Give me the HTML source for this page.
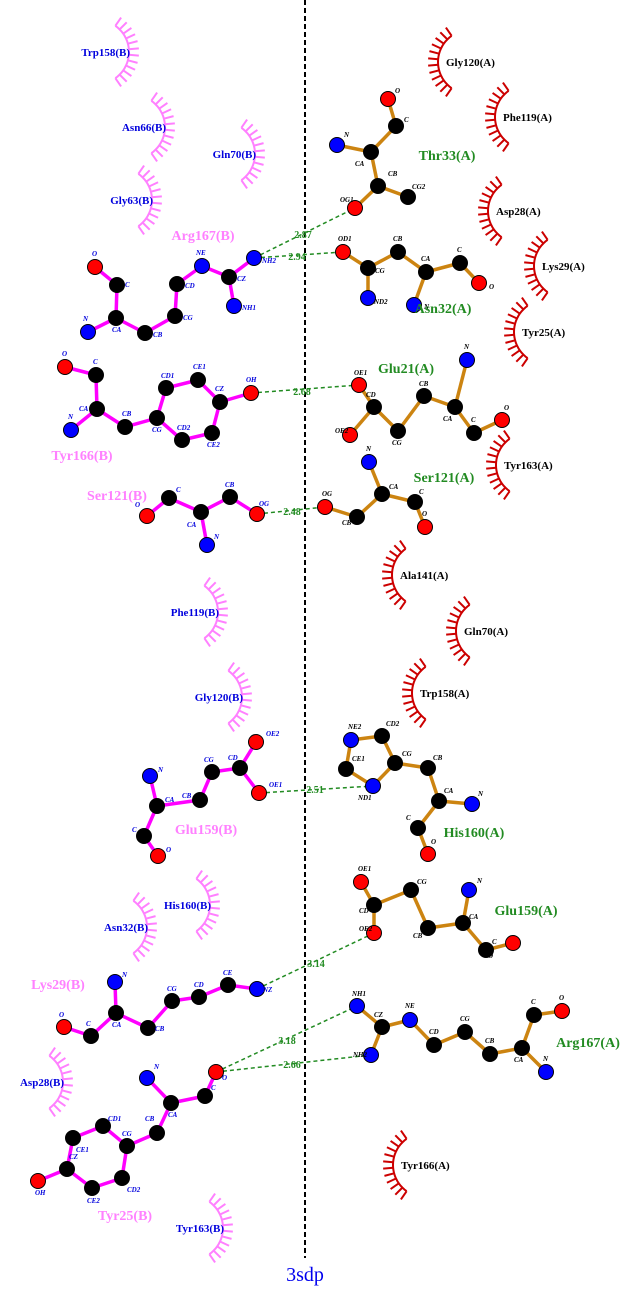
<!DOCTYPE html>
<html><head><meta charset="utf-8"><style>
html,body{margin:0;padding:0;background:#fff;}
svg{display:block;}
text{font-family:"Liberation Serif",serif;font-weight:bold;}
</style></head><body>
<svg id="s" width="642" height="1292" viewBox="0 0 642 1292" xmlns="http://www.w3.org/2000/svg">
<line x1="305" y1="0" x2="305" y2="1258" stroke="#000" stroke-width="2" stroke-dasharray="5,3"/>
<text x="305" y="1281" font-size="20" fill="#0000ee" text-anchor="middle" style="font-weight:normal">3sdp</text>
<g id="arcs"></g><g id="hb"></g><g id="bonds"></g><g id="atoms"></g><g id="labels"></g>
</svg>
<script>
var NS="http://www.w3.org/2000/svg";
function el(p,t,a,txt){var e=document.createElementNS(NS,t);for(var k in a)e.setAttribute(k,a[k]);if(txt!==undefined)e.textContent=txt;document.getElementById(p).appendChild(e);return e;}
var col={C:"#000",O:"#ff0000",N:"#0000ff"};
function res(side,atoms,bonds,name,lx,ly){
 var bc=side=="B"?"#ff00ff":"#cc8411", ac=side=="B"?"#0000dd":"#000";
 var m={};atoms.forEach(function(a){m[a[0]]=a;});
 bonds.forEach(function(b){var p=m[b[0]],q=m[b[1]];el("bonds","line",{x1:p[1],y1:p[2],x2:q[1],y2:q[2],stroke:bc,"stroke-width":3.5});});
 atoms.forEach(function(a){el("atoms","circle",{cx:a[1],cy:a[2],r:7.5,fill:col[a[3]],stroke:"#000","stroke-width":1});
  el("labels","text",{x:a[1]+(a[4]||10),y:a[2]+(a[5]||-8),"font-size":7,fill:ac,"font-style":"italic"},a[0]);});
 el("labels","text",{x:lx,y:ly,"font-size":14,fill:side=="B"?"#ff80ff":"#228b22","text-anchor":"middle"},name);
}
res("B",[["O",95,267,"O",-3,-11],["C",117,285,"C",8,2],["CA",116,318,"C",-4,14],["N",88,332,"N",-5,-11],["CB",145,333,"C",8,4],["CG",175,316,"C",8,4],["CD",177,284,"C",8,4],["NE",202,266,"N",-6,-11],["CZ",229,277,"C",8,4],["NH2",254,258,"N",8,5],["NH1",234,306,"N",8,4]],
 [["O","C"],["C","CA"],["CA","N"],["CA","CB"],["CB","CG"],["CG","CD"],["CD","NE"],["NE","CZ"],["CZ","NH2"],["CZ","NH1"]],"Arg167(B)",203,240);
res("B",[["O",65,367,"O",-3,-11],["C",96,375,"C",-3,-11],["CA",97,409,"C",-18,2],["N",71,430,"N",-3,-11],["CB",125,427,"C",-3,-11],["CG",157,418,"C",-5,14],["CD1",166,388,"C",-5,-10],["CE1",198,380,"C",-5,-11],["CZ",220,402,"C",-5,-11],["OH",251,393,"O",-5,-11],["CE2",212,433,"C",-5,14],["CD2",182,440,"C",-5,-10]],
 [["O","C"],["C","CA"],["CA","N"],["CA","CB"],["CB","CG"],["CG","CD1"],["CD1","CE1"],["CE1","CZ"],["CZ","OH"],["CZ","CE2"],["CE2","CD2"],["CD2","CG"]],"Tyr166(B)",82,460);
res("B",[["O",147,516,"O",-12,-9],["C",169,498,"C",7,-6],["CA",201,512,"C",-14,15],["N",207,545,"N",7,-6],["CB",230,497,"C",-5,-10],["OG",257,514,"O",2,-8]],
 [["O","C"],["C","CA"],["CA","N"],["CA","CB"],["CB","OG"]],"Ser121(B)",117,500);
res("B",[["C",144,836,"C",-12,-4],["O",158,856,"O",8,-4],["CA",157,806,"C",8,-4],["N",150,776,"N",8,-4],["CB",200,800,"C",-18,-2],["CG",212,772,"C",-8,-10],["CD",240,768,"C",-12,-8],["OE2",256,742,"O",0,-6],["OE1",259,793,"O",0,-6]],
 [["C","O"],["C","CA"],["CA","N"],["CA","CB"],["CB","CG"],["CG","CD"],["CD","OE2"],["CD","OE1"]],"Glu159(B)",206,834);
res("B",[["O",64,1027,"O",-5,-10],["C",91,1036,"C",-5,-10],["CA",116,1013,"C",-4,14],["N",115,982,"N",7,-5],["CB",148,1028,"C",7,3],["CG",172,1001,"C",-5,-10],["CD",199,997,"C",-5,-10],["CE",228,985,"C",-5,-10],["NZ",257,989,"N",6,3]],
 [["O","C"],["C","CA"],["CA","N"],["CA","CB"],["CB","CG"],["CG","CD"],["CD","CE"],["CE","NZ"]],"Lys29(B)",58,989);
res("B",[["O",216,1072,"O",6,8],["C",205,1096,"C",6,-6],["CA",171,1103,"C",-3,14],["N",147,1078,"N",7,-9],["CB",157,1133,"C",-12,-12],["CG",127,1146,"C",-5,-10],["CD1",103,1126,"C",5,-5],["CE1",73,1138,"C",3,14],["CZ",67,1169,"C",2,-10],["OH",38,1181,"O",-3,14],["CE2",92,1188,"C",-5,15],["CD2",122,1178,"C",5,14]],
 [["O","C"],["C","CA"],["CA","N"],["CA","CB"],["CB","CG"],["CG","CD1"],["CD1","CE1"],["CE1","CZ"],["CZ","OH"],["CZ","CE2"],["CE2","CD2"],["CD2","CG"]],"Tyr25(B)",125,1220);
res("A",[["O",388,99,"O",7,-6],["C",396,126,"C",8,-4],["CA",371,152,"C",-16,14],["N",337,145,"N",7,-8],["CB",378,186,"C",0,-10],["CG2",408,197,"C",4,-8],["OG1",355,208,"O",-15,-6]],
 [["O","C"],["C","CA"],["CA","N"],["CA","CB"],["CB","CG2"],["CB","OG1"]],"Thr33(A)",447,160);
res("A",[["OD1",343,252,"O",-5,-11],["CG",368,268,"C",7,5],["CB",398,252,"C",-5,-11],["CA",426,272,"C",-5,-11],["C",460,263,"C",-3,-11],["O",479,283,"O",10,6],["N",414,305,"N",10,4],["ND2",368,298,"N",6,6]],
 [["OD1","CG"],["CG","CB"],["CB","CA"],["CA","C"],["C","O"],["CA","N"],["CG","ND2"]],"Asn32(A)",443,313);
res("A",[["OE1",359,385,"O",-5,-10],["CD",374,407,"C",-8,-10],["OE2",350,435,"O",-15,-2],["CG",398,431,"C",-6,14],["CB",424,396,"C",-5,-10],["CA",455,407,"C",-12,14],["N",467,360,"N",-3,-11],["C",474,433,"C",-3,-11],["O",502,420,"O",2,-10]],
 [["OE1","CD"],["CD","OE2"],["CD","CG"],["CG","CB"],["CB","CA"],["CA","N"],["CA","C"],["C","O"]],"Glu21(A)",406,373);
res("A",[["N",369,462,"N",-3,-11],["CA",382,494,"C",7,-5],["CB",357,517,"C",-15,8],["OG",325,507,"O",-3,-11],["C",415,502,"C",4,-8],["O",425,527,"O",-3,-11]],
 [["N","CA"],["CA","CB"],["CB","OG"],["CA","C"],["C","O"]],"Ser121(A)",444,482);
res("A",[["NE2",351,740,"N",-3,-11],["CD2",382,736,"C",4,-10],["CG",395,763,"C",7,-7],["CE1",346,769,"C",6,-8],["ND1",373,786,"N",-15,14],["CB",428,768,"C",5,-8],["CA",439,801,"C",5,-8],["N",472,804,"N",6,-8],["C",418,828,"C",-12,-8],["O",428,854,"O",3,-10]],
 [["NE2","CD2"],["CD2","CG"],["CG","ND1"],["ND1","CE1"],["CE1","NE2"],["CG","CB"],["CB","CA"],["CA","N"],["CA","C"],["C","O"]],"His160(A)",474,837);
res("A",[["OE1",361,882,"O",-3,-11],["CD",374,905,"C",-15,8],["OE2",374,933,"O",-15,-2],["CG",411,890,"C",6,-6],["CB",428,928,"C",-15,10],["CA",463,923,"C",6,-4],["N",469,890,"N",8,-7],["C",486,950,"C",6,-6],["O",513,943,"O",-25,15]],
 [["OE1","CD"],["CD","OE2"],["CD","CG"],["CG","CB"],["CB","CA"],["CA","N"],["CA","C"],["C","O"]],"Glu159(A)",526,915);
res("A",[["NH1",357,1006,"N",-5,-10],["CZ",382,1027,"C",-8,-10],["NE",410,1020,"N",-5,-12],["NH2",371,1055,"N",-18,2],["CD",434,1045,"C",-5,-11],["CG",465,1032,"C",-5,-11],["CB",490,1054,"C",-5,-11],["CA",522,1048,"C",-8,14],["N",546,1072,"N",-3,-11],["C",534,1015,"C",-3,-11],["O",562,1011,"O",-3,-11]],
 [["NH1","CZ"],["CZ","NE"],["CZ","NH2"],["NE","CD"],["CD","CG"],["CG","CB"],["CB","CA"],["CA","N"],["CA","C"],["C","O"]],"Arg167(A)",588,1047);
function arc(name,fx,fy,side){
 var c=side=="B"?"#ff80ff":"#cc0000", tc=side=="B"?"#0000dd":"#000";
 var r=32, dir=side=="B"?1:-1, cx=fx-dir*r, cy=fy;
 var d="";for(var i=0;i<=22;i++){var t=(-55+i*5)*Math.PI/180;var x=cx+dir*r*Math.cos(t),y=cy+r*Math.sin(t);d+=(i?"L":"M")+x.toFixed(1)+" "+y.toFixed(1);}
 el("arcs","path",{d:d,fill:"none",stroke:c,"stroke-width":2});
 for(var i=0;i<=11;i++){var t=(-55+i*10)*Math.PI/180;var x1=cx+dir*r*Math.cos(t),y1=cy+r*Math.sin(t),x2=cx+dir*(r+10)*Math.cos(t),y2=cy+(r+10)*Math.sin(t);
  el("arcs","line",{x1:x1,y1:y1,x2:x2,y2:y2,stroke:c,"stroke-width":2});}
 if(side=="B") el("labels","text",{x:fx+1,y:fy+4,"font-size":11,fill:tc,"text-anchor":"end"},name);
 else el("labels","text",{x:fx+8,y:fy+4,"font-size":11,fill:tc,"text-anchor":"start"},name);
}
arc("Trp158(B)",129,52,"B");arc("Asn66(B)",165,127,"B");arc("Gln70(B)",255,154,"B");arc("Gly63(B)",152,200,"B");
arc("Phe119(B)",218,612,"B");arc("Gly120(B)",242,697,"B");arc("His160(B)",210,905,"B");arc("Asn32(B)",147,927,"B");
arc("Asp28(B)",63,1082,"B");arc("Tyr163(B)",223,1228,"B");
arc("Gly120(A)",438,62,"A");arc("Phe119(A)",495,117,"A");arc("Asp28(A)",488,211,"A");arc("Lys29(A)",534,266,"A");
arc("Tyr25(A)",514,332,"A");arc("Tyr163(A)",496,465,"A");arc("Ala141(A)",392,575,"A");arc("Gln70(A)",456,631,"A");
arc("Trp158(A)",412,693,"A");arc("Tyr166(A)",393,1165,"A");
function hb(x1,y1,x2,y2,t,lx,ly){el("hb","line",{x1:x1,y1:y1,x2:x2,y2:y2,stroke:"#228b22","stroke-width":1.5,"stroke-dasharray":"4,3"});
 el("labels","text",{x:lx,y:ly+4,"font-size":10,fill:"#228b22","text-anchor":"middle"},t);}
hb(254,258,355,208,"2.87",303,234);hb(254,258,343,252,"2.94",297,256);hb(251,393,359,385,"2.68",302,391);hb(257,514,325,507,"2.48",292,511);
hb(259,793,373,786,"2.51",315,789);hb(257,989,374,933,"3.14",316,963);hb(216,1072,357,1006,"3.18",287,1040);hb(216,1072,371,1055,"2.66",292,1064);
</script>
</body></html>
